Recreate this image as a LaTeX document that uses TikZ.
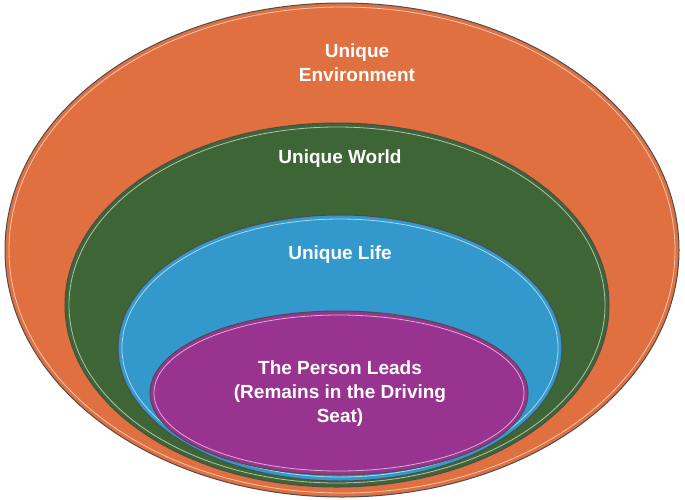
\documentclass[tikz,border=0pt]{standalone}
\usepackage{fontspec}
\setmainfont{Liberation Sans}
\usetikzlibrary{positioning}
\definecolor{envorange}{HTML}{E07040}
\definecolor{worldgreen}{HTML}{3E6535}
\definecolor{lifeblue}{HTML}{3399CC}
\definecolor{personpurple}{HTML}{993390}
\begin{document}
\begin{tikzpicture}[x=1pt,y=-1pt]
  \tikzset{RingStyle/.style = {draw=black!70, line width=1pt},
           GlowStyle/.style = {draw=white, line width=0.8pt, opacity=0.6},
           LabelStyle/.style = {text=white, font=\bfseries\fontsize{19}{24}\selectfont,
                                align=center}}
  \useasboundingbox (0,0) rectangle (685,499);
  %%% RINGS %%%
  \fill[envorange, RingStyle] (342,250) ellipse [x radius=337, y radius=247];
  \draw[GlowStyle] (342,250) ellipse [x radius=333, y radius=243];
  \fill[worldgreen, RingStyle] (337,305) ellipse [x radius=272, y radius=182];
  \draw[GlowStyle] (337,305) ellipse [x radius=268, y radius=178];
  \fill[lifeblue, RingStyle] (340,348) ellipse [x radius=222, y radius=133];
  \draw[GlowStyle] (340,348) ellipse [x radius=218, y radius=129];
  \fill[personpurple, RingStyle] (339,393) ellipse [x radius=189, y radius=82];
  \draw[GlowStyle] (339,393) ellipse [x radius=185, y radius=78];
  %%% LABELS %%%
  \node[LabelStyle] (env) at (357,63) {Unique\\Environment};
  \node[LabelStyle] (world) at (340,159) {Unique World};
  \node[LabelStyle] (life) at (340,255) {Unique Life};
  \node[LabelStyle] (person) at (340,394) {The Person Leads\\(Remains in the Driving\\Seat)};
\end{tikzpicture}
\end{document}
